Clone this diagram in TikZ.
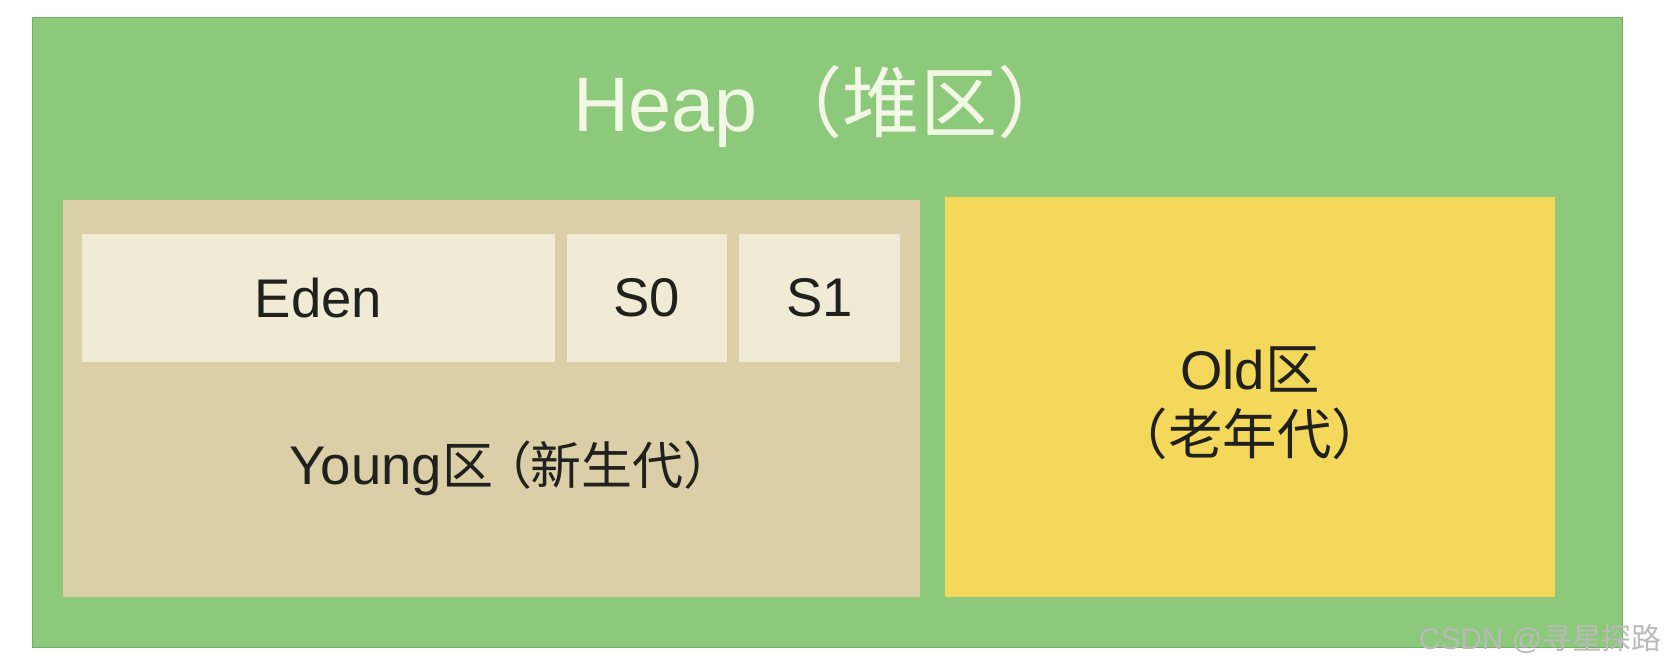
\documentclass[tikz,border=0pt]{standalone}
\usepackage{fontspec}
\setmainfont{Liberation Sans}
\newfontfamily\cjk{Noto Sans CJK SC}
\usepackage{tikz}
\usetikzlibrary{positioning}
\usepackage{xcolor}
\definecolor{heapgreen}{RGB}{141,201,122}
\definecolor{heapedge}{RGB}{116,174,102}
\definecolor{youngtan}{RGB}{219,207,168}
\definecolor{edencream}{RGB}{241,235,214}
\definecolor{oldyellow}{RGB}{244,216,92}
\definecolor{heaptext}{RGB}{243,247,230}
\definecolor{darktext}{RGB}{32,32,28}
\definecolor{markgray}{RGB}{186,186,186}
\tikzstyle{area} = [inner sep=0pt, outer sep=0pt, text centered]
\tikzstyle{space} = [area, fill=edencream, minimum height=2.56cm, text=darktext, font=\fontsize{31}{34}\selectfont]

\begin{document}
\begin{tikzpicture}[x=0.02cm, y=-0.02cm]
\useasboundingbox (0,0) rectangle (1664,671);

% Heap
\node[area, fill=heapgreen, draw=heapedge, line width=0.6pt, minimum width=31.82cm, minimum height=12.62cm] (heap) at (827.5,332.5) {};
\node[anchor=base, inner sep=0pt, text=heaptext, font=\fontsize{44}{48}\selectfont] (heaptitle) at (824,132) {Heap\kern0.1em{\cjk （堆区）}};

% Young generation
\node[area, fill=youngtan, minimum width=17.14cm, minimum height=7.94cm] (young) at (491.5,398.5) {};
\node[space, minimum width=9.46cm] (eden) at (318.5,298) {Eden};
\node[space, minimum width=3.2cm, right=0.24cm of eden] (szero) {S0};
\node[space, minimum width=3.22cm, right=0.24cm of szero] (sone) {S1};
\node[anchor=base, inner sep=0pt, text=darktext, font=\fontsize{31}{34}\selectfont] (younglabel) at (512,485) {Young{\cjk\fontsize{29}{34}\selectfont 区\kern-0.22em（\kern-0.04em新生代）}};

% Old generation
\node[area, fill=oldyellow, minimum width=12.2cm, minimum height=8cm] (old) at (1250,397) {};
\node[inner sep=0pt, align=center, text=darktext, font=\fontsize{31}{37}\selectfont] (oldlabel) at (old.center) [yshift=-0.12cm] {Old{\cjk 区}\\{\cjk （老年代）}};

% Watermark
\node[anchor=base east, inner sep=0pt, text=markgray, font=\fontsize{17}{19}\selectfont] (watermark) at (1662,650) {CSDN @{\cjk 寻星探路}};
\end{tikzpicture}
\end{document}
